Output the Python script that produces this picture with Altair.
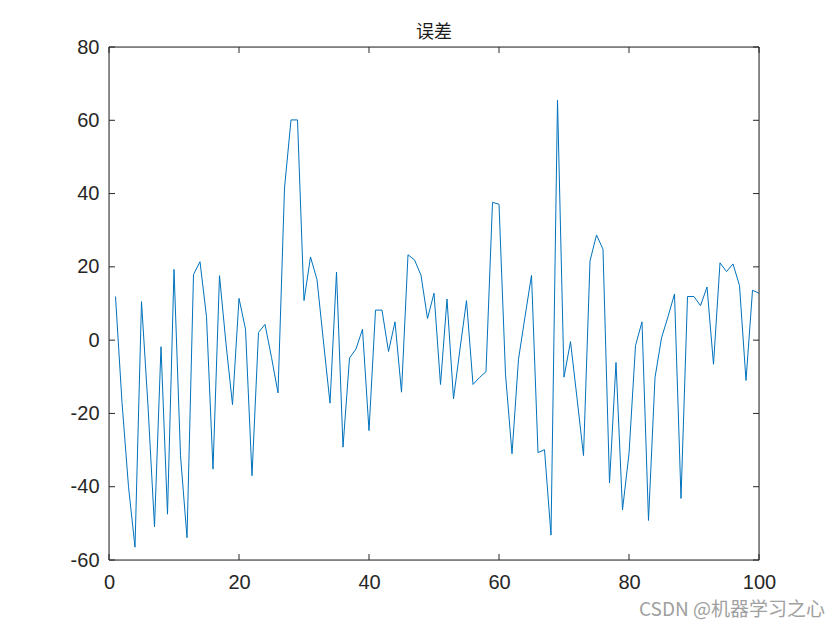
import altair as alt
import pandas as pd

idx = list(range(1, 101))
err = [11.9, -17, -40, -56.5, 10.5, -18, -50.9, -1.8, -47.5, 19.3,
       -31.5, -53.9, 17.9, 21.4, 6.4, -35.2, 17.6, -1, -17.6, 11.4,
       3, -37, 2.1, 4.3, -4.7, -14.4, 41.5, 60.1, 60.1, 10.8,
       22.7, 16.5, -0.5, -17.2, 18.6, -29.2, -4.9, -2.4, 3.0, -24.7,
       8.2, 8.2, -3.1, 5.0, -14.2, 23.3, 21.9, 17.7, 5.9, 12.8,
       -12.1, 11.2, -16, -2.4, 10.8, -12.1, -10.2, -8.6, 37.6, 37.1,
       -9.3, -31, -5.2, 6.4, 17.7, -30.7, -29.9, -53.2, 65.5, -10.1,
       -0.4, -15.8, -31.5, 21.6, 28.7, 24.8, -39, -6.1, -46.3, -31,
       -1.5, 5.0, -49.2, -10.2, 0.6, 6.4, 12.6, -43.2, 11.9, 11.9,
       9.4, 14.5, -6.6, 21.1, 18.7, 20.8, 14.9, -11, 13.6, 12.8]
x_ticks = [0, 20, 40, 60, 80, 100]
y_ticks = [-60, -40, -20, 0, 20, 40, 60, 80]
title_text = "误差"
watermark = "CSDN @机器学习之心"

W, H = 650, 513
df = pd.DataFrame({"i": idx, "e": err})
xt = pd.DataFrame({"v": x_ticks})
yt = pd.DataFrame({"v": y_ticks})

xs = alt.Scale(domain=[0, 100], nice=False, zero=False)
ys = alt.Scale(domain=[-60, 80], nice=False, zero=False)

lbl_expr = "datum.value < 0 ? '-' + abs(datum.value) : '' + datum.value"
axis_common = dict(labelFont="Liberation Sans", labelFontSize=20, labelColor="#262626",
                   ticks=False, domain=False, grid=False, title=None,
                   labelFlush=False, labelExpr=lbl_expr, labelOverlap=False)

line = alt.Chart(df).mark_line(color="#0072BD", strokeWidth=1, clip=True).encode(
    x=alt.X("i:Q", scale=xs, axis=alt.Axis(values=x_ticks, labelPadding=12, **axis_common)),
    y=alt.Y("e:Q", scale=ys, axis=alt.Axis(values=y_ticks, labelPadding=10, **axis_common)),
)

tick_col = "#262626"
xb = alt.Chart(xt).mark_rule(color=tick_col, strokeWidth=1).encode(
    x=alt.X("v:Q", scale=xs), y=alt.value(H), y2=alt.value(H - 6))
xtop = alt.Chart(xt).mark_rule(color=tick_col, strokeWidth=1).encode(
    x=alt.X("v:Q", scale=xs), y=alt.value(0), y2=alt.value(6))
yl = alt.Chart(yt).mark_rule(color=tick_col, strokeWidth=1).encode(
    y=alt.Y("v:Q", scale=ys), x=alt.value(0), x2=alt.value(6))
yr = alt.Chart(yt).mark_rule(color=tick_col, strokeWidth=1).encode(
    y=alt.Y("v:Q", scale=ys), x=alt.value(W), x2=alt.value(W - 6))

box = alt.Chart(pd.DataFrame({"k": [0]})).mark_rect(
    fill=None, stroke=tick_col, strokeWidth=1).encode(
    x=alt.value(0), x2=alt.value(W), y=alt.value(0), y2=alt.value(H))

ttl = alt.Chart(pd.DataFrame({"t": [title_text]})).mark_text(
    align="center", baseline="middle", fontSize=18, font="Noto Sans CJK SC",
    color="#1a1a1a").encode(text="t:N", x=alt.value(W / 2), y=alt.value(-14))

wm = alt.Chart(pd.DataFrame({"t": [watermark]})).mark_text(
    align="right", baseline="middle", fontSize=19, font="Noto Sans CJK SC",
    color="#a0a0a0").encode(text="t:N", x=alt.value(716), y=alt.value(563))

chart = alt.layer(line, xb, xtop, yl, yr, box, ttl, wm).properties(
    width=W, height=H,
    autosize=alt.AutoSizeParams(type="none"),
    padding={"left": 101, "top": 39, "right": 73, "bottom": 62},
).configure_view(strokeWidth=0).configure(background="white")

chart.save("out.html", embed_options={"renderer": "svg", "actions": False})
